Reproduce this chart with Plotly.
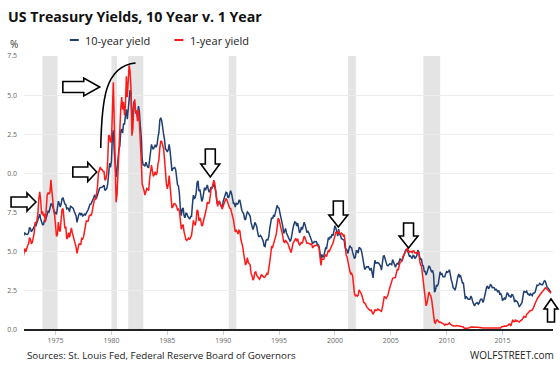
import plotly.graph_objects as go

# ---------------- data (monthly) ----------------
start_year = 1972
ten_year = [
 5.95,6.08,6.07,6.19,6.13,6.11,6.11,6.21,6.55,6.48,6.28,6.36,
 6.46,6.64,6.71,6.67,6.85,6.90,7.13,7.40,7.09,6.79,6.73,6.74,
 6.99,6.96,7.21,7.51,7.58,7.54,7.81,8.04,8.04,7.90,7.68,7.43,
 7.50,7.39,7.73,8.23,8.06,7.86,8.06,8.40,8.43,8.15,8.05,8.00,
 7.74,7.79,7.73,7.56,7.90,7.86,7.83,7.77,7.59,7.41,7.29,6.87,
 7.21,7.39,7.46,7.37,7.46,7.28,7.33,7.40,7.34,7.52,7.58,7.69,
 7.96,8.03,8.04,8.15,8.35,8.46,8.64,8.41,8.42,8.64,8.81,9.01,
 9.10,9.10,9.12,9.18,9.25,8.91,8.95,9.03,9.33,10.30,10.65,10.39,
 10.80,12.41,12.75,11.47,10.18,9.78,10.25,11.10,11.51,11.75,12.68,12.84,
 12.57,13.19,13.12,13.68,14.10,13.47,14.28,14.94,15.32,15.15,13.39,13.72,
 14.59,14.43,13.86,13.87,13.62,14.30,13.95,13.06,12.34,10.91,10.55,10.54,
 10.46,10.72,10.51,10.40,10.38,10.85,11.38,11.85,11.65,11.54,11.69,11.83,
 11.67,11.84,12.32,12.63,13.41,13.56,13.36,12.72,12.52,12.16,11.57,11.50,
 11.38,11.51,11.86,11.43,10.85,10.16,10.31,10.33,10.37,10.24,9.78,9.26,
 9.19,8.70,7.78,7.30,7.71,7.80,7.30,7.17,7.45,7.43,7.25,7.11,
 7.08,7.25,7.25,8.02,8.61,8.40,8.45,8.76,9.42,9.52,8.86,8.99,
 8.67,8.21,8.37,8.72,9.09,8.92,9.06,9.26,8.98,8.80,8.96,9.11,
 9.09,9.17,9.36,9.18,8.86,8.28,8.02,8.11,8.19,8.01,7.87,7.84,
 8.21,8.47,8.59,8.79,8.76,8.48,8.47,8.75,8.89,8.72,8.39,8.08,
 8.09,7.85,8.11,8.04,8.07,8.28,8.27,7.90,7.65,7.53,7.42,7.09,
 7.03,7.34,7.54,7.48,7.39,7.26,6.84,6.59,6.42,6.59,6.87,6.77,
 6.60,6.26,5.98,5.97,6.04,5.96,5.81,5.68,5.36,5.33,5.72,5.77,
 5.75,5.97,6.48,6.97,7.18,7.10,7.30,7.24,7.46,7.74,7.96,7.81,
 7.78,7.47,7.20,7.06,6.63,6.17,6.28,6.49,6.20,6.04,5.93,5.71,
 5.65,5.81,6.27,6.51,6.74,6.91,6.87,6.64,6.83,6.53,6.20,6.30,
 6.58,6.42,6.69,6.89,6.71,6.49,6.22,6.30,6.21,6.03,5.88,5.81,
 5.54,5.57,5.65,5.64,5.65,5.50,5.46,5.34,4.81,4.53,4.83,4.65,
 4.72,5.00,5.23,5.18,5.54,5.90,5.79,5.94,5.92,6.11,6.03,6.28,
 6.66,6.52,6.26,5.99,6.44,6.10,6.05,5.83,5.80,5.74,5.72,5.24,
 5.16,5.10,4.89,5.14,5.39,5.28,5.24,4.97,4.73,4.57,4.65,5.09,
 5.04,4.91,5.28,5.21,5.16,4.93,4.65,4.26,3.87,3.94,4.05,4.03,
 4.05,3.90,3.81,3.96,3.57,3.33,3.98,4.45,4.27,4.29,4.30,4.27,
 4.15,4.08,3.83,4.35,4.72,4.73,4.50,4.28,4.13,4.10,4.19,4.23,
 4.22,4.17,4.50,4.34,4.14,4.00,4.18,4.26,4.20,4.46,4.54,4.47,
 4.42,4.57,4.72,4.99,5.11,5.11,5.09,4.88,4.72,4.73,4.60,4.56,
 4.76,4.72,4.56,4.69,4.75,5.10,5.00,4.67,4.52,4.53,4.15,4.10,
 3.74,3.74,3.51,3.68,3.88,4.10,4.01,3.89,3.69,3.81,3.53,2.42,
 2.52,2.87,2.82,2.93,3.29,3.72,3.56,3.59,3.40,3.39,3.40,3.59,
 3.73,3.69,3.73,3.85,3.42,3.20,3.01,2.70,2.65,2.54,2.76,3.29,
 3.39,3.58,3.41,3.46,3.17,3.00,3.00,2.30,1.98,2.15,2.01,1.98,
 1.97,1.97,2.17,2.05,1.80,1.62,1.53,1.68,1.72,1.75,1.65,1.72,
 1.91,1.98,1.96,1.76,1.93,2.30,2.58,2.74,2.81,2.62,2.72,2.90,
 2.86,2.71,2.72,2.71,2.56,2.60,2.54,2.42,2.53,2.30,2.33,2.21,
 1.88,1.98,2.04,1.94,2.20,2.36,2.32,2.17,2.17,2.07,2.26,2.24,
 2.09,1.78,1.89,1.81,1.81,1.64,1.50,1.56,1.63,1.76,2.14,2.49,
 2.43,2.42,2.48,2.30,2.30,2.19,2.32,2.21,2.20,2.36,2.35,2.40,
 2.58,2.86,2.84,2.87,2.98,2.91,2.89,2.89,3.00,3.15,3.12,2.83,
 2.71,2.68,2.57,2.53,2.40,
]
one_year = [
 5.00,4.60,4.90,5.20,5.00,5.30,5.40,5.50,5.90,5.80,5.50,5.60,
 5.89,6.19,6.85,6.85,7.00,7.41,8.38,8.82,8.31,7.40,7.57,7.27,
 7.42,6.88,7.76,8.62,8.78,8.67,8.80,9.60,8.87,8.05,7.66,7.31,
 6.83,5.98,6.11,6.90,6.39,6.29,7.11,7.70,7.75,6.95,6.49,6.60,
 5.81,5.91,6.21,5.92,6.40,6.52,6.20,6.00,5.84,5.50,5.29,4.89,
 5.29,5.47,5.50,5.44,5.84,5.80,5.94,6.37,6.53,6.97,6.95,6.96,
 7.28,7.34,7.31,7.45,7.82,8.09,8.39,8.31,8.64,9.14,10.01,10.30,
 10.41,10.24,10.25,10.12,10.12,9.57,9.64,9.98,10.84,12.44,12.39,11.98,
 12.06,13.92,15.82,13.30,9.39,8.16,8.65,10.24,11.52,12.49,14.15,14.88,
 14.08,14.57,13.71,14.32,16.20,14.86,15.72,16.90,16.52,15.38,12.41,12.85,
 14.32,14.73,13.95,13.98,13.34,14.07,13.24,11.43,10.85,9.32,9.16,8.91,
 8.62,8.92,9.04,8.98,8.90,9.66,10.20,10.53,10.16,9.81,9.94,10.11,
 9.90,10.04,10.59,10.90,11.66,12.08,12.03,11.82,11.58,10.90,9.82,9.33,
 9.02,9.29,9.86,9.14,8.46,7.80,7.86,8.05,8.07,8.01,7.88,7.67,
 7.73,7.61,7.03,6.44,6.65,6.73,6.27,5.93,5.77,5.72,5.80,5.87,
 5.78,5.96,6.03,6.50,7.00,6.80,6.68,7.03,7.67,7.59,6.96,7.17,
 6.99,6.64,6.71,7.01,7.40,7.49,7.75,8.17,8.09,8.11,8.48,8.99,
 9.05,9.25,9.57,9.36,8.98,8.44,7.89,8.18,8.22,7.99,7.77,7.72,
 7.92,8.11,8.35,8.40,8.32,8.10,7.94,7.78,7.76,7.55,7.31,7.05,
 6.64,6.27,6.40,6.24,6.13,6.36,6.31,5.78,5.57,5.33,4.89,4.38,
 4.15,4.29,4.63,4.30,4.19,4.17,3.60,3.47,3.18,3.30,3.68,3.71,
 3.50,3.39,3.33,3.24,3.36,3.54,3.47,3.44,3.36,3.39,3.58,3.61,
 3.54,3.87,4.32,4.82,5.31,5.27,5.48,5.56,5.76,6.11,6.54,7.14,
 7.05,6.70,6.43,6.27,6.00,5.64,5.59,5.75,5.62,5.59,5.43,5.31,
 5.09,4.94,5.34,5.54,5.64,5.81,5.85,5.67,5.83,5.55,5.42,5.47,
 5.61,5.53,5.80,5.99,5.87,5.69,5.54,5.56,5.52,5.46,5.46,5.53,
 5.24,5.31,5.39,5.38,5.44,5.41,5.36,5.21,4.71,4.12,4.53,4.52,
 4.51,4.70,4.78,4.69,4.85,5.10,5.03,5.20,5.25,5.43,5.55,5.84,
 6.12,6.22,6.22,6.15,6.33,6.17,6.08,6.18,6.13,6.01,6.09,5.60,
 4.81,4.68,4.30,3.98,3.78,3.58,3.62,3.47,2.82,2.33,2.18,2.22,
 2.16,2.23,2.57,2.48,2.35,2.20,1.96,1.76,1.72,1.65,1.49,1.45,
 1.36,1.30,1.24,1.27,1.18,1.01,1.12,1.31,1.24,1.25,1.34,1.31,
 1.24,1.24,1.19,1.43,1.78,2.12,2.10,2.02,2.12,2.23,2.50,2.67,
 2.86,3.03,3.30,3.32,3.33,3.36,3.64,3.87,3.85,4.18,4.33,4.35,
 4.45,4.68,4.77,4.90,5.00,5.16,5.22,5.08,4.97,5.01,5.01,4.94,
 5.06,5.05,4.92,4.93,4.91,4.96,4.96,4.47,4.14,4.10,3.50,3.26,
 2.71,2.05,1.54,1.74,2.06,2.42,2.28,2.18,1.91,1.42,1.07,0.49,
 0.44,0.62,0.64,0.55,0.50,0.51,0.48,0.46,0.40,0.37,0.31,0.37,
 0.35,0.35,0.40,0.45,0.37,0.32,0.29,0.26,0.26,0.23,0.25,0.29,
 0.27,0.29,0.26,0.25,0.19,0.18,0.19,0.11,0.10,0.11,0.11,0.12,
 0.12,0.16,0.19,0.18,0.19,0.19,0.19,0.18,0.18,0.18,0.18,0.16,
 0.15,0.16,0.15,0.12,0.12,0.14,0.12,0.13,0.12,0.12,0.12,0.13,
 0.12,0.12,0.13,0.11,0.10,0.10,0.11,0.11,0.11,0.10,0.13,0.21,
 0.20,0.22,0.25,0.23,0.24,0.28,0.30,0.38,0.37,0.26,0.48,0.65,
 0.54,0.53,0.66,0.56,0.59,0.55,0.51,0.57,0.59,0.66,0.74,0.87,
 0.83,0.82,1.01,1.04,1.12,1.20,1.22,1.23,1.28,1.40,1.56,1.70,
 1.80,1.96,2.06,2.15,2.27,2.33,2.39,2.45,2.56,2.65,2.70,2.66,
 2.58,2.55,2.49,2.42,2.34,
]
recessions = [(1973.83, 1975.17), (1980.0, 1980.5), (1981.5, 1982.85),
              (1990.5, 1991.17), (2001.17, 2001.87), (2007.92, 2009.42)]
x_ticks = [1975, 1980, 1985, 1990, 1995, 2000, 2005, 2010, 2015]
y_ticks = [0, 2.5, 5, 7.5, 10, 12.5, 15, 17.5]
y_tick_text = ["0.0", "2.5", "5.0", "7.5", "0.0", "2.5", "5.0", "7.5"]

months = [start_year + i / 12 for i in range(max(len(ten_year), len(one_year)))]

BLUE = "#1f3f73"
RED = "#ff1a1a"

# plot-area geometry in pixels (for decorations)
FW, FH = 560, 367
ML, MR, MT, MB = 22, 7, 56, 37
PW, PH = FW - ML - MR, FH - MT - MB


def px(xp):
    return (xp - ML) / PW


def py(yp):
    return 1 - (yp - MT) / PH


fig = go.Figure()
fig.add_trace(go.Scatter(x=months[:len(ten_year)], y=ten_year, mode="lines",
                         line=dict(color=BLUE, width=1.5), name="10-year yield"))
fig.add_trace(go.Scatter(x=months[:len(one_year)], y=one_year, mode="lines",
                         line=dict(color=RED, width=1.5), name="1-year yield"))

shapes = []
for a, b in recessions:
    shapes.append(dict(type="rect", xref="x", yref="y", x0=a, x1=b, y0=0, y1=17.5,
                       fillcolor="#e4e4e4", line=dict(width=0), layer="below"))


def block_arrow(tx, ty, direction, length, head, hh, sh):
    # points in pixel space, relative to tip
    if direction == "right":
        pts = [(-length, -sh), (-head, -sh), (-head, -hh), (0, 0), (-head, hh), (-head, sh), (-length, sh)]
    elif direction == "down":
        pts = [(-sh, -length), (-sh, -head), (-hh, -head), (0, 0), (hh, -head), (sh, -head), (sh, -length)]
    else:  # up
        pts = [(-sh, length), (-sh, head), (-hh, head), (0, 0), (hh, head), (sh, head), (sh, length)]
    pts = [(tx + dx, ty + dy) for dx, dy in pts]
    path = "M " + " L ".join(f"{px(x):.5f},{py(y):.5f}" for x, y in pts) + " Z"
    return dict(type="path", xref="paper", yref="paper", path=path,
                fillcolor="white", line=dict(color="black", width=1.6), layer="above")


shapes += [
    block_arrow(34, 202, "right", 25, 9, 9, 5),
    block_arrow(95, 172, "right", 24, 9, 9.5, 5),
    block_arrow(98, 87, "right", 37, 16, 9, 5.5),
    block_arrow(209, 177, "down", 28, 13, 9.5, 5),
    block_arrow(337.5, 227, "down", 26, 12, 9.5, 5),
    block_arrow(408, 248, "down", 25, 12, 9.5, 5),
    block_arrow(551, 299, "up", 23, 10, 7, 3.5),
]
curve = (f"M {px(99):.5f},{py(148):.5f} C {px(100):.5f},{py(100):.5f} "
         f"{px(103):.5f},{py(66):.5f} {px(134):.5f},{py(63):.5f}")
shapes.append(dict(type="path", xref="paper", yref="paper", path=curve,
                   line=dict(color="black", width=1.6), layer="above"))
# custom legend swatches
shapes.append(dict(type="line", xref="paper", yref="paper", x0=px(68), x1=px(77), y0=py(40), y1=py(40),
                   line=dict(color=BLUE, width=2)))
shapes.append(dict(type="line", xref="paper", yref="paper", x0=px(173), x1=px(182), y0=py(40), y1=py(40),
                   line=dict(color=RED, width=2)))

FONT = "Open Sans"
annotations = [
    dict(text="<b>US Treasury Yields, 10 Year v. 1 Year</b>", xref="paper", yref="paper",
         x=px(4), y=py(17), xanchor="left", yanchor="middle", showarrow=False,
         font=dict(family=FONT, size=14.2, color="#111111")),
    dict(text="10-year yield", xref="paper", yref="paper", x=px(81), y=py(40),
         xanchor="left", yanchor="middle", showarrow=False,
         font=dict(family=FONT, size=11, color="#222222")),
    dict(text="1-year yield", xref="paper", yref="paper", x=px(187), y=py(40),
         xanchor="left", yanchor="middle", showarrow=False,
         font=dict(family=FONT, size=11, color="#222222")),
    dict(text="%", xref="paper", yref="paper", x=px(6), y=py(44),
         xanchor="left", yanchor="middle", showarrow=False,
         font=dict(family=FONT, size=10, color="#333333")),
    dict(text="Sources: St. Louis Fed, Federal Reserve Board of Governors", xref="paper", yref="paper",
         x=px(23), y=py(355), xanchor="left", yanchor="middle", showarrow=False,
         font=dict(family=FONT, size=9.8, color="#222222")),
    dict(text="WOLFSTREET.com", xref="paper", yref="paper",
         x=px(556), y=py(355), xanchor="right", yanchor="middle", showarrow=False,
         font=dict(family=FONT, size=10, color="#222222")),
]

x0 = 1975 - (53.7 - ML) / 11.215
x1 = x0 + PW / 11.215

fig.update_layout(
    width=FW, height=FH, margin=dict(l=ML, r=MR, t=MT, b=MB),
    paper_bgcolor="white", plot_bgcolor="white", showlegend=False,
    shapes=shapes, annotations=annotations,
    font=dict(family=FONT),
    xaxis=dict(range=[x0, x1], tickvals=x_ticks, ticktext=[str(t) for t in x_ticks],
               showgrid=False, zeroline=False, showline=False,
               ticks="outside", ticklen=4, tickcolor="#c8d0dc", tickwidth=1,
               tickfont=dict(size=7, color="#666666", family=FONT)),
    yaxis=dict(range=[0, 17.5], tickvals=y_ticks, ticktext=y_tick_text,
               showgrid=True, gridcolor="#ececec", gridwidth=1,
               zeroline=True, zerolinecolor="#222222", zerolinewidth=2,
               showline=False, ticklabelstandoff=6,
               tickfont=dict(size=7, color="#666666", family=FONT)),
)

fig.write_html("out.html", config={"displayModeBar": False},
               post_script="document.body.style.margin='0';document.body.style.padding='0';")
